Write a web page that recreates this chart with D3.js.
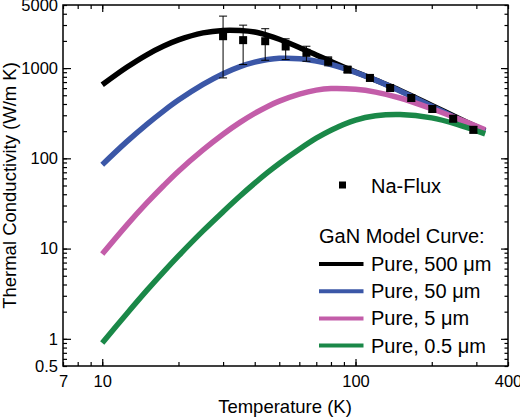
<!DOCTYPE html>
<html>
<head>
<meta charset="utf-8">
<script src="https://cdn.jsdelivr.net/npm/d3@7"></script>
<style>
  body { margin: 0; background: #fff; }
  text { font-family: "Liberation Sans", Arial, Helvetica, sans-serif; fill: #000; }
</style>
</head>
<body>
<div id="chart"></div>
<script>
// model curves (temperature grid shared by all curves)
const modelT = [10, 12.5, 15, 17.5, 20, 25, 30, 35, 40, 45, 50, 60, 70, 80, 100, 120, 150, 200, 250, 325];
const k500um = [653, 1020, 1404, 1755, 2053, 2454, 2615, 2606, 2506, 2307, 2089, 1694, 1396, 1183, 906, 735, 566, 386, 285, 202];
const k50um = [85, 153, 238, 336, 442, 659, 867, 1040, 1164, 1242, 1282, 1271, 1194, 1096, 897, 736, 557, 378, 279, 200];
const k5um = [8.7, 18.2, 32, 50, 72, 124, 185, 250, 315, 376, 430, 515, 570, 593, 582, 542, 466, 354, 279, 207];
const k05um = [0.9, 1.9, 3.44, 5.56, 8.3, 15.7, 25.6, 38.2, 53, 69.7, 87.7, 126, 167, 205, 265, 296, 306, 281, 240, 187];

// Na-Flux measurements with error bars
const naT = [30, 36, 44, 53, 64, 78, 93, 114, 137, 166, 201, 243, 292];
const naK = [2255, 2040, 1985, 1735, 1475, 1190, 962, 778, 602, 466, 352, 275, 207];
const naHi = [3765, 2990, 2730, 2110, 1746, 1330, 1040, 840, 650, 505, 382, 298, 224];
const naLo = [778, 1094, 1221, 1242, 1190, 1060, 890, 720, 555, 430, 325, 254, 191];

const seriesNames = ["Pure, 500 \u03bcm", "Pure, 50 \u03bcm", "Pure, 5 \u03bcm", "Pure, 0.5 \u03bcm"];
const seriesColors = ["#000000", "#3b57a7", "#c35da9", "#1a8848"];

const xLabelVals = [7, 10, 100, 400];
const xMajorVals = [10, 100];
const yLabelVals = [0.5, 1, 10, 100, 1000, 5000];
const yMajorVals = [1, 10, 100, 1000];

const width = 520;
const height = 419;
const margin = { top: 5, right: 12, bottom: 53, left: 63 };
const innerW = width - margin.left - margin.right;
const innerH = height - margin.top - margin.bottom;

const svg = d3.select("#chart")
    .append("svg")
    .attr("width", width)
    .attr("height", height);

const g = svg.append("g")
    .attr("transform", `translate(${margin.left},${margin.top})`);

const xScale = d3.scaleLog().domain([7, 400]).range([0, innerW]);
const yScale = d3.scaleLog().domain([0.5, 5000]).range([innerH, 0]);

// ticks: minor and major, all pointing inward, on all four sides
function tickAxis(axisFn, scale, values, size, transform) {
    const a = g.append("g")
        .attr("transform", transform)
        .call(axisFn(scale).tickValues(values).tickSize(-size).tickFormat(""));
    a.select(".domain").remove();
    a.selectAll("line").attr("stroke", "#000").attr("stroke-width", 1.2);
}

tickAxis(d3.axisBottom, xScale, xScale.ticks(), 4, `translate(0,${innerH})`);
tickAxis(d3.axisBottom, xScale, xMajorVals, 7, `translate(0,${innerH})`);
tickAxis(d3.axisTop, xScale, xScale.ticks(), 4, "translate(0,0)");
tickAxis(d3.axisTop, xScale, xMajorVals, 7, "translate(0,0)");
tickAxis(d3.axisLeft, yScale, yScale.ticks(), 4, "translate(0,0)");
tickAxis(d3.axisLeft, yScale, yMajorVals, 8, "translate(0,0)");
tickAxis(d3.axisRight, yScale, yScale.ticks(), 3.5, `translate(${innerW},0)`);
tickAxis(d3.axisRight, yScale, yMajorVals, 7, `translate(${innerW},0)`);

// tick labels
const xLab = g.append("g")
    .attr("transform", `translate(0,${innerH})`)
    .call(d3.axisBottom(xScale).tickValues(xLabelVals).tickSize(0).tickPadding(9).tickFormat(d3.format("")));
xLab.select(".domain").remove();
xLab.selectAll("text").style("font-size", "16.5px").attr("font-family", null);

const yLab = g.append("g")
    .call(d3.axisLeft(yScale).tickValues(yLabelVals).tickSize(0).tickPadding(5).tickFormat(d3.format("")));
yLab.select(".domain").remove();
yLab.selectAll("text").style("font-size", "16.5px").attr("font-family", null);

// frame
g.append("rect")
    .attr("x", 0)
    .attr("y", 0)
    .attr("width", innerW)
    .attr("height", innerH)
    .attr("fill", "none")
    .attr("stroke", "#000")
    .attr("stroke-width", 1.5);

// model curves
const line = d3.line()
    .x(d => xScale(d[0]))
    .y(d => yScale(d[1]))
    .curve(d3.curveCatmullRom.alpha(0.5));

[k500um, k50um, k5um, k05um].forEach((vals, i) => {
    g.append("path")
        .datum(modelT.map((t, j) => [t, vals[j]]))
        .attr("fill", "none")
        .attr("stroke", seriesColors[i])
        .attr("stroke-width", 5.5)
        .attr("stroke-linecap", "butt")
        .attr("d", line);
});

// Na-Flux points
const pts = naT.map((t, i) => ({ t: t, k: naK[i], hi: naHi[i], lo: naLo[i] }));
const capW = 4;

const eb = g.selectAll(".errbar")
    .data(pts)
    .enter().append("g")
    .attr("class", "errbar")
    .attr("stroke", "#000")
    .attr("stroke-width", 1);

eb.append("line")
    .attr("x1", d => xScale(d.t)).attr("x2", d => xScale(d.t))
    .attr("y1", d => yScale(d.hi)).attr("y2", d => yScale(d.lo));
eb.append("line")
    .attr("x1", d => xScale(d.t) - capW).attr("x2", d => xScale(d.t) + capW)
    .attr("y1", d => yScale(d.hi)).attr("y2", d => yScale(d.hi));
eb.append("line")
    .attr("x1", d => xScale(d.t) - capW).attr("x2", d => xScale(d.t) + capW)
    .attr("y1", d => yScale(d.lo)).attr("y2", d => yScale(d.lo));

g.selectAll(".pt")
    .data(pts)
    .enter().append("rect")
    .attr("class", "pt")
    .attr("x", d => xScale(d.t) - 4)
    .attr("y", d => yScale(d.k) - 4)
    .attr("width", 8)
    .attr("height", 8)
    .attr("fill", "#000");

// legend
const lg = svg.append("g");
lg.append("rect")
    .attr("x", 339).attr("y", 181.5)
    .attr("width", 7).attr("height", 7)
    .attr("fill", "#000");
lg.append("text")
    .attr("x", 371).attr("y", 192.5)
    .style("font-size", "20px")
    .text("Na-Flux");
lg.append("text")
    .attr("x", 319).attr("y", 242.5)
    .style("font-size", "20px")
    .text("GaN Model Curve:");

seriesNames.forEach((name, i) => {
    const y0 = 264 + i * 27.2;
    lg.append("line")
        .attr("x1", 319).attr("x2", 363.5)
        .attr("y1", y0).attr("y2", y0)
        .attr("stroke", seriesColors[i])
        .attr("stroke-width", 4);
    lg.append("text")
        .attr("x", 371).attr("y", y0 + 7)
        .style("font-size", "20px")
        .text(name);
});

// axis titles
svg.append("text")
    .attr("x", margin.left + innerW / 2 - 0.5)
    .attr("y", 413)
    .attr("text-anchor", "middle")
    .style("font-size", "18.5px")
    .text("Temperature (K)");

svg.append("text")
    .attr("transform", `translate(16,${margin.top + innerH / 2}) rotate(-90)`)
    .attr("text-anchor", "middle")
    .style("font-size", "18.5px")
    .text("Thermal Conductivity (W/m K)");
</script>
</body>
</html>
